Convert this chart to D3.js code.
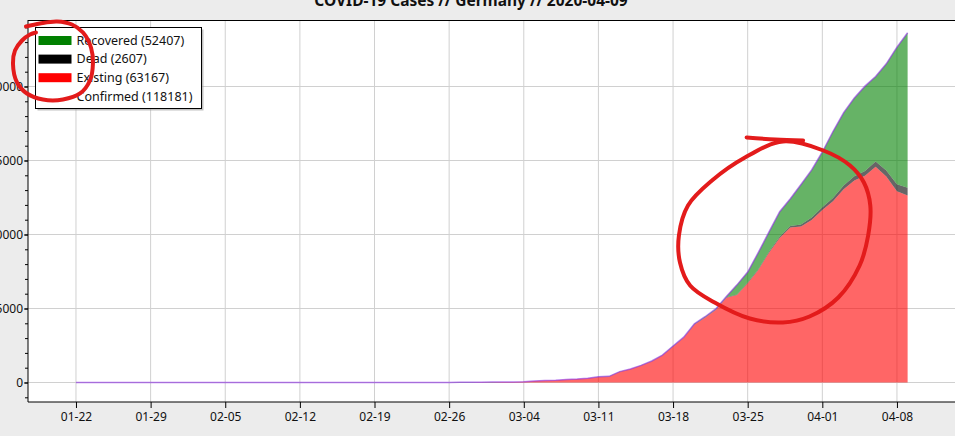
<!DOCTYPE html>
<html>
<head>
<meta charset="utf-8">
<script src="https://cdn.jsdelivr.net/npm/d3@7"></script>
<style>
  body { margin: 0; background: #ececec; }
  text { font-family: "Noto Sans", "Open Sans", sans-serif; fill: #111; }
</style>
</head>
<body>
<div id="chart"></div>
<script>
// JHU time series, Germany, 2020-01-22 .. 2020-04-09
var startDay = new Date(2020, 0, 22);
var confirmed = [
  0, 0, 0, 0, 0, 1, 4, 4, 4, 5,
  8, 10, 12, 12, 12, 12, 13, 13, 14, 14, 16, 16, 16, 16, 16, 16, 16, 16, 16, 16,
  16, 16, 16, 16, 17, 27, 46, 48, 79,
  130, 159, 196, 262, 482, 670, 799, 1040, 1176, 1457, 1908, 2078, 3675, 4585, 5795,
  7272, 9257, 12327, 15320, 19848, 22213, 24873, 29056, 32986, 37323, 43938, 50871,
  57695, 62095, 66885, 71808,
  77872, 84794, 91159, 96092, 100123, 103374, 107663, 113296, 118181
];
var dead = [
  0, 0, 0, 0, 0, 0, 0, 0, 0, 0,
  0, 0, 0, 0, 0, 0, 0, 0, 0, 0, 0, 0, 0, 0, 0, 0, 0, 0, 0, 0,
  0, 0, 0, 0, 0, 0, 0, 0, 0,
  0, 0, 0, 0, 0, 0, 0, 0, 2, 2, 3, 3, 7, 9, 11,
  17, 24, 28, 44, 67, 84, 94, 123, 157, 206, 267,
  342, 433, 533, 645, 775,
  920, 1107, 1275, 1444, 1584, 1810, 2016, 2349, 2607
];
var recovered = [
  0, 0, 0, 0, 0, 0, 0, 0, 0, 0,
  0, 0, 0, 0, 0, 0, 0, 0, 0, 0, 0, 1, 1, 1, 1, 1, 1, 12, 12, 12,
  14, 14, 14, 14, 14, 15, 16, 16, 16,
  16, 16, 16, 16, 16, 16, 16, 18, 18, 18, 25, 25, 46, 46, 46,
  67, 67, 105, 113, 180, 233, 266, 266, 3243, 3547, 5673,
  6658, 8481, 9211, 13500, 16100,
  18700, 22440, 24575, 26400, 28700, 28700, 36081, 46300, 52407
];
var seriesKeys = ["existing", "dead", "recovered"];
var seriesColors = { existing: "red", dead: "black", recovered: "green" };
var legendItems = ["Recovered", "Dead", "Existing", "Confirmed"];
var yMajorTicks = [0, 25000, 50000, 75000, 100000];
var chartTitle = "COVID-19 Cases // Germany // 2020-04-09";

// hand drawn marks on the screenshot, in [day, cases]
var bigLoop = [
  [66.3, 81420], [70.1, 78380], [72.6, 73310], [73.9, 67570], [74.5, 59800],
  [74.3, 49660], [73.5, 39530], [71.5, 28720], [68.8, 22300], [66.3, 20270],
  [63.2, 21620], [59.9, 27030], [57.6, 32770], [56.65, 40540], [56.55, 49660],
  [57.4, 59800], [59.65, 68240], [62.75, 76010]
];
var bigTail = [[62.9, 82770], [65.6, 82090], [68.2, 81760]];
var smallLoop = [
  [-4.69, 120270], [-3.38, 121280], [-1.78, 121960], [-0.38, 120950], [0.66, 118240],
  [1.41, 113180], [1.59, 107770], [1.31, 102030], [0.38, 97640], [-1.22, 95610],
  [-3.1, 95610], [-4.6, 97640], [-5.53, 101350], [-5.91, 107770], [-5.72, 112160],
  [-5.06, 115540], [-4.31, 117570], [-3.75, 118240]
];

var W = 955, H = 436;
var plotLeft = 28, plotTop = 20, plotBottom = 402;

var dates = d3.timeDay.range(startDay, d3.timeDay.offset(startDay, confirmed.length));
var fmt = d3.timeFormat("%m-%d");

var rows = dates.map(function (d, i) {
  return {
    i: i,
    existing: confirmed[i] - dead[i] - recovered[i],
    dead: dead[i],
    recovered: recovered[i],
    confirmed: confirmed[i]
  };
});

var x = d3.scaleLinear().domain([-4.5, 82.5]).range([plotLeft, plotLeft + 87 * 10.662]);
var y = d3.scaleLinear().domain([-6588, 122466]).range([plotBottom, plotTop]);

var svg = d3.select("#chart").append("svg")
  .attr("width", W).attr("height", H)
  .style("display", "block");

svg.append("rect").attr("width", W).attr("height", H).attr("fill", "#ececec");
svg.append("rect")
  .attr("x", plotLeft).attr("y", plotTop)
  .attr("width", W - plotLeft + 2).attr("height", plotBottom - plotTop)
  .attr("fill", "#fff");

var xTicks = d3.range(0, confirmed.length, 7);

// grid
svg.append("g").selectAll("line").data(xTicks).join("line")
  .attr("x1", d => x(d)).attr("x2", d => x(d))
  .attr("y1", plotTop).attr("y2", plotBottom)
  .attr("stroke", "#d0d0d0");
svg.append("g").selectAll("line").data(yMajorTicks).join("line")
  .attr("x1", plotLeft).attr("x2", W)
  .attr("y1", d => y(d)).attr("y2", d => y(d))
  .attr("stroke", "#d0d0d0");

// stacked areas
var stacked = d3.stack().keys(seriesKeys)(rows);
var area = d3.area()
  .x(d => x(d.data.i))
  .y0(d => y(d[0]))
  .y1(d => y(d[1]));

svg.append("g").selectAll("path").data(stacked).join("path")
  .attr("d", area)
  .attr("fill", d => seriesColors[d.key])
  .attr("fill-opacity", 0.6);

// confirmed line
svg.append("path")
  .datum(rows)
  .attr("d", d3.line().x(d => x(d.i)).y(d => y(d.confirmed)))
  .attr("fill", "none")
  .attr("stroke", "blueviolet")
  .attr("stroke-opacity", 0.6)
  .attr("stroke-width", 1.5);

// axes
var xAxis = svg.append("g")
  .attr("transform", "translate(0," + plotBottom + ")")
  .call(d3.axisBottom(x).tickValues(xTicks).tickSize(6).tickPadding(4)
    .tickFormat(i => fmt(dates[i])));
xAxis.select(".domain").attr("stroke", "#000").attr("d", "M" + plotLeft + ",0H" + W);
xAxis.selectAll("text").attr("font-size", 12).attr("fill", "#222")
  .style("font-family", "'Noto Sans', sans-serif");

var yMinor = svg.append("g").attr("transform", "translate(" + plotLeft + ",0)")
  .call(d3.axisLeft(y).tickValues(d3.range(-5000, 122000, 5000)).tickSize(3).tickFormat(""));
yMinor.select(".domain").remove();

var yAxis = svg.append("g").attr("transform", "translate(" + plotLeft + ",0)")
  .call(d3.axisLeft(y).tickValues(yMajorTicks).tickSize(4).tickPadding(3)
    .tickFormat(d3.format("d")));
yAxis.select(".domain").attr("stroke", "#000").attr("d", "M0," + plotTop + "V" + plotBottom);
yAxis.selectAll("text").attr("font-size", 12).attr("fill", "#222")
  .attr("x", -5)
  .style("font-family", "'Noto Sans', sans-serif");

// top spine
svg.append("line")
  .attr("x1", plotLeft).attr("x2", W).attr("y1", plotTop + 0.5).attr("y2", plotTop + 0.5)
  .attr("stroke", "#000");

// legend
var latest = rows[rows.length - 1];
var legendValues = [latest.recovered, latest.dead, latest.existing, latest.confirmed];
var legendColors = ["green", "black", "red", "none"];
var lg = svg.append("g").attr("transform", "translate(35.5,27.5)");
lg.append("rect").attr("x", 2).attr("y", 2).attr("width", 166).attr("height", 81)
  .attr("fill", "#9a9a9a").attr("opacity", 0.6);
lg.append("rect").attr("width", 166).attr("height", 81)
  .attr("fill", "#fff").attr("stroke", "#000");
var item = lg.selectAll("g.item").data(legendItems).join("g")
  .attr("class", "item")
  .attr("transform", (d, i) => "translate(0," + (13 + i * 18.6) + ")");
item.append("rect")
  .attr("x", 3).attr("y", -4.5).attr("width", 33).attr("height", 9)
  .attr("fill", (d, i) => legendColors[i]);
item.append("text")
  .attr("x", 41).attr("dy", "0.35em")
  .attr("font-size", 12.5)
  .text((d, i) => d + " (" + legendValues[i] + ")");

// title
svg.append("text")
  .attr("x", 471).attr("y", 6)
  .attr("text-anchor", "middle")
  .attr("font-size", 15.5).attr("font-weight", "bold")
  .text(chartTitle);

// red hand drawn marks
var pen = d3.line().x(d => x(d[0])).y(d => y(d[1]));
var marks = svg.append("g")
  .attr("fill", "none").attr("stroke", "#e31b1b")
  .attr("stroke-width", 4).attr("stroke-linecap", "round").attr("stroke-linejoin", "round");
marks.append("path").attr("d", pen.curve(d3.curveCatmullRomClosed)(bigLoop));
marks.append("path").attr("d", pen.curve(d3.curveCatmullRom)(bigTail));
marks.append("path").attr("d", pen.curve(d3.curveCatmullRom)(smallLoop));
</script>
</body>
</html>
